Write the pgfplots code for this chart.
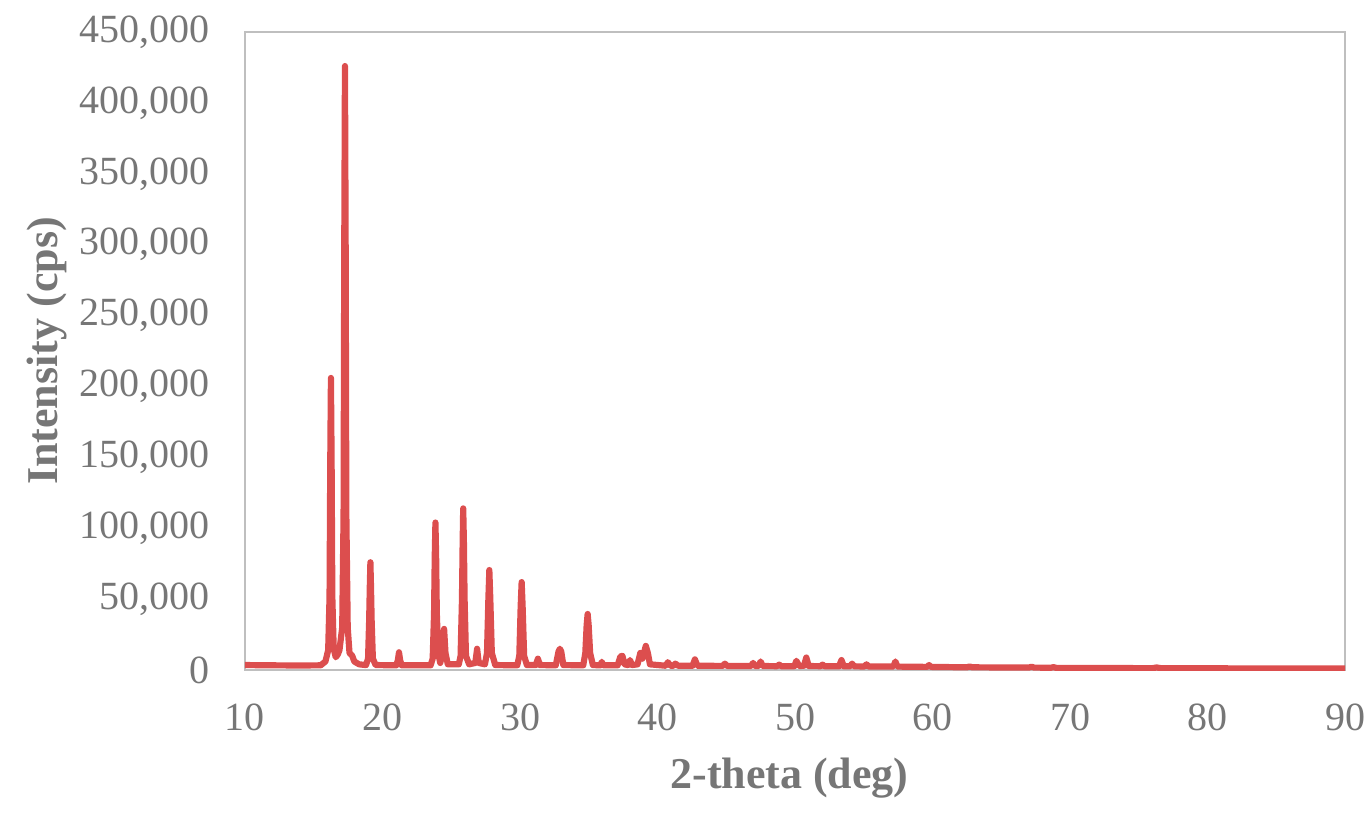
\documentclass[border=0pt]{standalone}
\usepackage{pgfplots}
\pgfplotsset{compat=1.18}
\usepackage{fontspec}
\setmainfont{Liberation Serif}
\definecolor{txtgray}{RGB}{118,118,118}
\definecolor{framegray}{RGB}{191,191,191}
\definecolor{xrdred}{RGB}{220,78,78}
\begin{document}
\begin{tikzpicture}
\useasboundingbox (-61.25pt,-36pt) rectangle (280.5pt,167.5pt);
\begin{axis}[
  at={(0,0)}, anchor=south west,
  scale only axis, width=275pt, height=159.5pt,
  xmin=10, xmax=90, ymin=0, ymax=450000,
  xtick={10,20,...,90},
  ytick={0,50000,...,450000},
  scaled y ticks=false,
  /pgf/number format/.cd, fixed, 1000 sep={,}, assume math mode=true,
  /pgfplots/.cd,
  major tick length=0pt,
  axis line style={framegray, line width=0.6pt},
  ticklabel style={font=\fontsize{10}{12}\selectfont, text=txtgray},
  yticklabel style={anchor=east, inner sep=0pt, xshift=-8.75pt},
  xticklabel style={anchor=north, inner sep=0pt, yshift=-8.25pt},
  xlabel={2-theta (deg)},
  ylabel={Intensity (cps)},
  label style={font=\fontsize{11}{13}\selectfont\bfseries, text=txtgray},
  xlabel style={at={(axis description cs:0.495,-0.169)}, anchor=center},
  ylabel style={at={(axis description cs:-0.18,0.5)}, anchor=center},
]
\addplot[color=xrdred, line width=1.55pt, line join=round, line cap=round] coordinates {
(10,3500) (12,3300) (14,3200) (15.5,3300) (15.85,6000) (16.05,14000)
(16.15,52000) (16.2,145000) (16.25,206000) (16.3,145000) (16.35,52000)
(16.45,15000) (16.6,9000) (16.75,11000) (16.87,14000) (17.07,30000)
(17.17,110000) (17.22,300000) (17.27,426000) (17.32,300000) (17.37,110000)
(17.47,30000) (17.6,12000) (17.8,10000) (17.95,6000) (18.3,4000)
(18.8,3500) (18.95,8000) (19.03,35000) (19.08,60000) (19.12,76000)
(19.16,60000) (19.21,35000) (19.3,8000) (19.5,3500)
(21.0,3300) (21.12,7000) (21.2,12500) (21.28,7000) (21.4,3300)
(23.5,3300) (23.65,8000) (23.75,40000) (23.8,80000) (23.85,104000)
(23.9,80000) (23.95,40000) (24.05,12000) (24.2,5000) (24.38,12000)
(24.48,29000) (24.58,12000) (24.75,4000) (25.55,4000) (25.68,10000)
(25.78,50000) (25.83,90000) (25.87,114000) (25.92,90000) (25.97,50000)
(26.07,10000) (26.3,4000) (26.75,5000) (26.88,15000) (27.0,5000)
(27.45,4000) (27.6,12000) (27.7,50000) (27.77,70500) (27.84,50000)
(27.95,12000) (28.2,3500) (29.8,3300) (29.95,10000) (30.05,45000)
(30.12,62000) (30.19,45000) (30.3,10000) (30.5,3500) (31.15,3500)
(31.3,8000) (31.45,3500) (32.6,3300) (32.8,13000) (32.9,15000)
(33.0,13000) (33.15,3500) (34.6,3300) (34.75,12000) (34.85,32000)
(34.92,39500) (34.99,32000) (35.1,12000) (35.3,3500) (35.85,3300)
(35.95,5800) (36.05,3300) (37.1,3300) (37.3,9500) (37.45,10000)
(37.6,4000) (37.85,3500) (38.0,7000) (38.15,3500) (38.55,4000)
(38.75,12000) (38.9,8000) (39.15,17000) (39.3,12000) (39.45,4000)
(40.6,3000) (40.75,5500) (40.95,3000) (41.15,3000) (41.3,4500) (41.5,3000)
(42.55,3000) (42.72,7500) (42.9,3000) (44.75,2900) (44.9,4500)
(45.05,2900) (46.8,2800) (46.95,5000) (47.1,2800) (47.35,2800)
(47.5,6000) (47.65,2800) (48.7,2700) (48.85,3800) (49.0,2700)
(49.95,2700) (50.1,6500) (50.3,2800) (50.65,3000) (50.82,8800)
(51.0,2800) (51.85,2700) (52.0,3800) (52.15,2700) (53.2,2600)
(53.38,7000) (53.55,2600) (54.0,2600) (54.15,4500) (54.3,2600)
(55.05,2500) (55.2,4000) (55.35,2500) (57.15,2400) (57.3,6000)
(57.45,2400) (59.6,2200) (59.75,3500) (59.9,2200) (62.5,1900)
(62.7,2500) (62.9,1900) (67.0,1700) (67.2,2300) (67.4,1700)
(68.6,1600) (68.8,2000) (69.0,1500) (73,1400) (76,1300) (76.3,1800)
(76.6,1300) (80,1200) (85,1100) (90,1000)
};
\end{axis}
\end{tikzpicture}
\end{document}
